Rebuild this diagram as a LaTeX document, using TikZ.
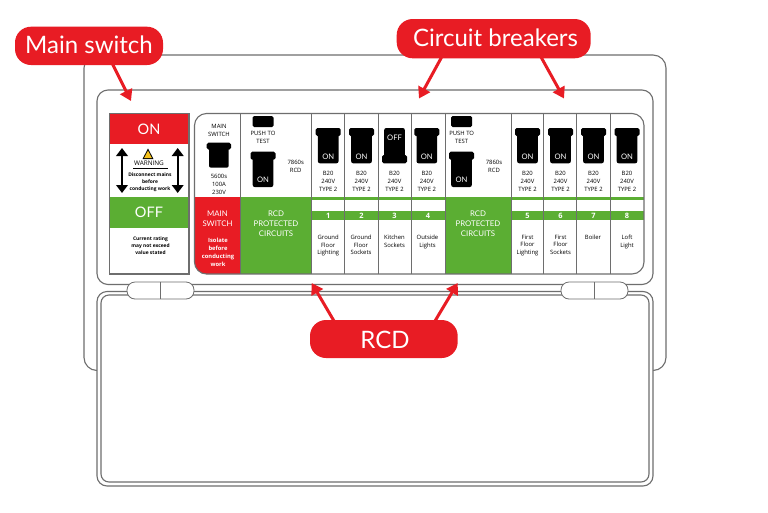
\documentclass[tikz,border=0pt]{standalone}
\usepackage{fontspec}
\setmainfont{Lato}
\newfontfamily\smf{Open Sans}
\usetikzlibrary{arrows.meta}
\definecolor{rd}{HTML}{E81C24}
\definecolor{gr}{HTML}{5BAE33}
\definecolor{ln}{HTML}{6E6E6E}
\definecolor{yl}{HTML}{F6C21C}
\tikzset{
 boxline/.style={draw=ln,line width=1.1pt},
 thinline/.style={draw=ln,line width=.8pt},
 smalltxt/.style={font=\smf\fontsize{5.9}{7.9}\selectfont,align=center,inner sep=0pt,text=black},
 boldtxt/.style={font=\smf\fontsize{4.9}{7.1}\selectfont\bfseries,align=center,inner sep=0pt,text=black},
 greenlab/.style={font=\fontsize{7.8}{10}\selectfont,align=center,inner sep=0pt,text=white},
 swlab/.style={font=\fontsize{7.6}{8}\selectfont,text=white,inner sep=0pt},
 biglab/.style={font=\fontsize{14.5}{16}\selectfont,text=white,inner sep=0pt},
 callouttxt/.style={font=\fontsize{24}{26}\selectfont,text=white,inner sep=0pt},
 pill/.style={fill=rd,rounded corners=16pt},
 pointer/.style={draw=rd,line width=3pt,-{Triangle[length=11pt,width=13pt]}},
 blackarrow/.style={draw=black,line width=2.4pt,{Triangle[length=8pt,width=11.5pt]}-{Triangle[length=8pt,width=11.5pt]}},
}
\newcommand{\swdown}[2]{%
 \fill[black,rounded corners=1.6pt] ({#1-12.5},#2) rectangle ({#1+12.5},{#2+8});
 \fill[black,rounded corners=2pt] ({#1-10.3},{#2+2}) rectangle ({#1+10.3},{#2+35.3});
 \node[swlab] (on#1) at (#1,{#2+28.5}) {ON};}
\newcommand{\swup}[2]{%
 \fill[black,rounded corners=1.6pt] ({#1-12.5},{#2+27}) rectangle ({#1+12.5},{#2+35.3});
 \fill[black,rounded corners=2pt] ({#1-10.3},#2) rectangle ({#1+10.3},{#2+33});
 \node[swlab] (off#1) at (#1,{#2+10}) {OFF};}
\newcommand{\breakerlab}[1]{%
 \node[smalltxt] (b#1) at (#1,181.7) {B20\\240V\\TYPE 2};}
\begin{document}
\begin{tikzpicture}[x=1pt,y=-1pt]
\useasboundingbox[fill=white] (0,0) rectangle (768,512);
% enclosure
\draw[boxline,rounded corners=13pt] (97,370.5) -- (84,370.5) -- (84,55) -- (666,55) -- (666,370.5) -- (653,370.5);
% inner panel
\draw[boxline,rounded corners=11pt] (97,90) rectangle (653,284.5);
% lid
\draw[boxline,rounded corners=10pt,fill=white] (97,291.5) rectangle (653,486);
\draw[boxline,rounded corners=8pt] (101,295) rectangle (649,482);
% hinges
\foreach \a/\b in {127/194,561/628}{
 \draw[thinline,fill=white,rounded corners=8pt] (\a,282) rectangle (\b,299);
 \draw[thinline] ({(\a+\b)/2},282) -- ({(\a+\b)/2},299);}
% left label block
\fill[rd] (110,114) rectangle (189,144);
\fill[gr] (110,197) rectangle (189,228);
\draw[boxline] (109.5,113.5) rectangle (189,274);
\node[biglab] (lon) at (149,129) {ON};
\node[biglab] (loff) at (149,212) {OFF};
\draw[blackarrow] (122,148) -- (122,193);
\draw[blackarrow] (177.7,148) -- (177.7,193);
\fill[black] (142.5,159) -- (153.5,159) -- (148,148.5) -- cycle;
\fill[yl] (144,158.2) -- (152,158.2) -- (148,150.6) -- cycle;
\node[smalltxt,font=\smf\fontsize{6.4}{8}\selectfont] (warn) at (149,162.8) {WARNING};
\draw[black,line width=.5pt] (133,168.2) -- (168,168.2);
\node[boldtxt] (disc) at (150,182) {Disconnect mains\\before\\conducting work};
\node[boldtxt] (rate) at (150.5,245.5) {Current rating\\may not exceed\\value stated};
% main panel fills
\begin{scope}
\clip[rounded corners=12pt] (194.5,113.5) rectangle (644,274);
\fill[rd] (194,197) rectangle (240,275);
\end{scope}
\fill[gr] (240,197) rectangle (312,274);
\fill[gr] (445,197) rectangle (511.7,274);
\fill[gr] (312,197) rectangle (445,199.8);
\fill[gr] (511.7,197) rectangle (644,199.8);
\fill[gr] (312,210.7) rectangle (445,220);
\fill[gr] (511.7,210.7) rectangle (644,220);
\draw[boxline,rounded corners=12pt] (194.5,113.5) rectangle (644,274);
\foreach \x in {240,311.7,344.7,378,411,445,511.7,543,576.7,610}{
 \draw[ln,line width=.9pt] (\x,113.5) -- (\x,274);}
% main switch
\node[smalltxt] (ms) at (219,130.6) {MAIN\\SWITCH};
\fill[black,rounded corners=1.6pt] (206.7,142.7) rectangle (231,149.5);
\fill[black,rounded corners=2pt] (209,144) rectangle (228.7,167.7);
\node[smalltxt] (mv) at (219,184) {5600s\\100A\\230V};
% RCD 1
\fill[black,rounded corners=1.5pt] (252.7,116) rectangle (273.5,127);
\node[smalltxt] (pt1) at (263,137.4) {PUSH TO\\TEST};
\swdown{263}{151.7}
\node[smalltxt] (r1) at (295.7,166.8) {7860s\\RCD};
% RCD 2
\fill[black,rounded corners=1.5pt] (451,116) rectangle (472,127);
\node[smalltxt] (pt2) at (461.7,137.4) {PUSH TO\\TEST};
\swdown{461.5}{151.7}
\node[smalltxt] (r2) at (494,166.8) {7860s\\RCD};
% breakers
\swdown{328.2}{128}
\swdown{361.5}{128}
\swup{394.5}{128}
\swdown{426.8}{128}
\swdown{527.5}{128}
\swdown{560.5}{128}
\swdown{593.5}{128}
\swdown{627}{128}
\foreach \x in {328.2,361.5,394.5,426.8,527.5,560.5,593.5,627}{\breakerlab{\x}}
% numbers
\foreach \x/\n in {328.2/1,361.5/2,394.5/3,428/4,527.5/5,560.5/6,593.5/7,627/8}{
 \node[font=\smf\fontsize{7.4}{8}\selectfont\bfseries,text=white,inner sep=0pt] (n\n) at (\x,215.5) {\n};}
% circuit labels
\node[smalltxt,anchor=north] (c1) at (328.2,234.5) {Ground\\Floor\\Lighting};
\node[smalltxt,anchor=north] (c2) at (361,234.5) {Ground\\Floor\\Sockets};
\node[smalltxt,anchor=north] (c3) at (394.5,234.5) {Kitchen\\Sockets};
\node[smalltxt,anchor=north] (c4) at (427.5,234.5) {Outside\\Lights};
\node[smalltxt,anchor=north] (c5) at (527.5,234.5) {First\\Floor\\Lighting};
\node[smalltxt,anchor=north] (c6) at (560.5,234.5) {First\\Floor\\Sockets};
\node[smalltxt,anchor=north] (c7) at (593,234.5) {Boiler};
\node[smalltxt,anchor=north] (c8) at (627,234.5) {Loft\\Light};
% coloured labels
\node[greenlab] (rm) at (217.5,219) {MAIN\\SWITCH};
\node[boldtxt,text=white,font=\smf\fontsize{5.8}{8.2}\selectfont\bfseries] (ri) at (218,252.5) {Isolate\\before\\conducting\\work};
\node[greenlab] (g1) at (276,224) {RCD\\PROTECTED\\CIRCUITS};
\node[greenlab] (g2) at (478,224) {RCD\\PROTECTED\\CIRCUITS};
% callouts
\fill[pill] (15,26.7) rectangle (163,65);
\node[callouttxt] (cms) at (89,45) {Main switch};
\fill[pill] (396.7,19) rectangle (590.7,58.3);
\node[callouttxt] (ccb) at (495.5,37.5) {Circuit breakers};
\fill[pill] (310,320) rectangle (457.7,358);
\node[callouttxt] (crcd) at (385,339.5) {RCD};
% pointers
\coordinate (s1) at (112,63);
\coordinate (t1) at (131,101);
\coordinate (s2) at (441.7,57);
\coordinate (t2) at (419,98.5);
\coordinate (s3) at (541,57);
\coordinate (t3) at (564,98.5);
\coordinate (s4) at (334,321);
\coordinate (t4) at (311.7,283);
\coordinate (s5) at (435,321);
\coordinate (t5) at (457.7,283);
\draw[pointer] (s1) -- (t1);
\draw[pointer] (s2) -- (t2);
\draw[pointer] (s3) -- (t3);
\draw[pointer] (s4) -- (t4);
\draw[pointer] (s5) -- (t5);
\end{tikzpicture}
\end{document}
